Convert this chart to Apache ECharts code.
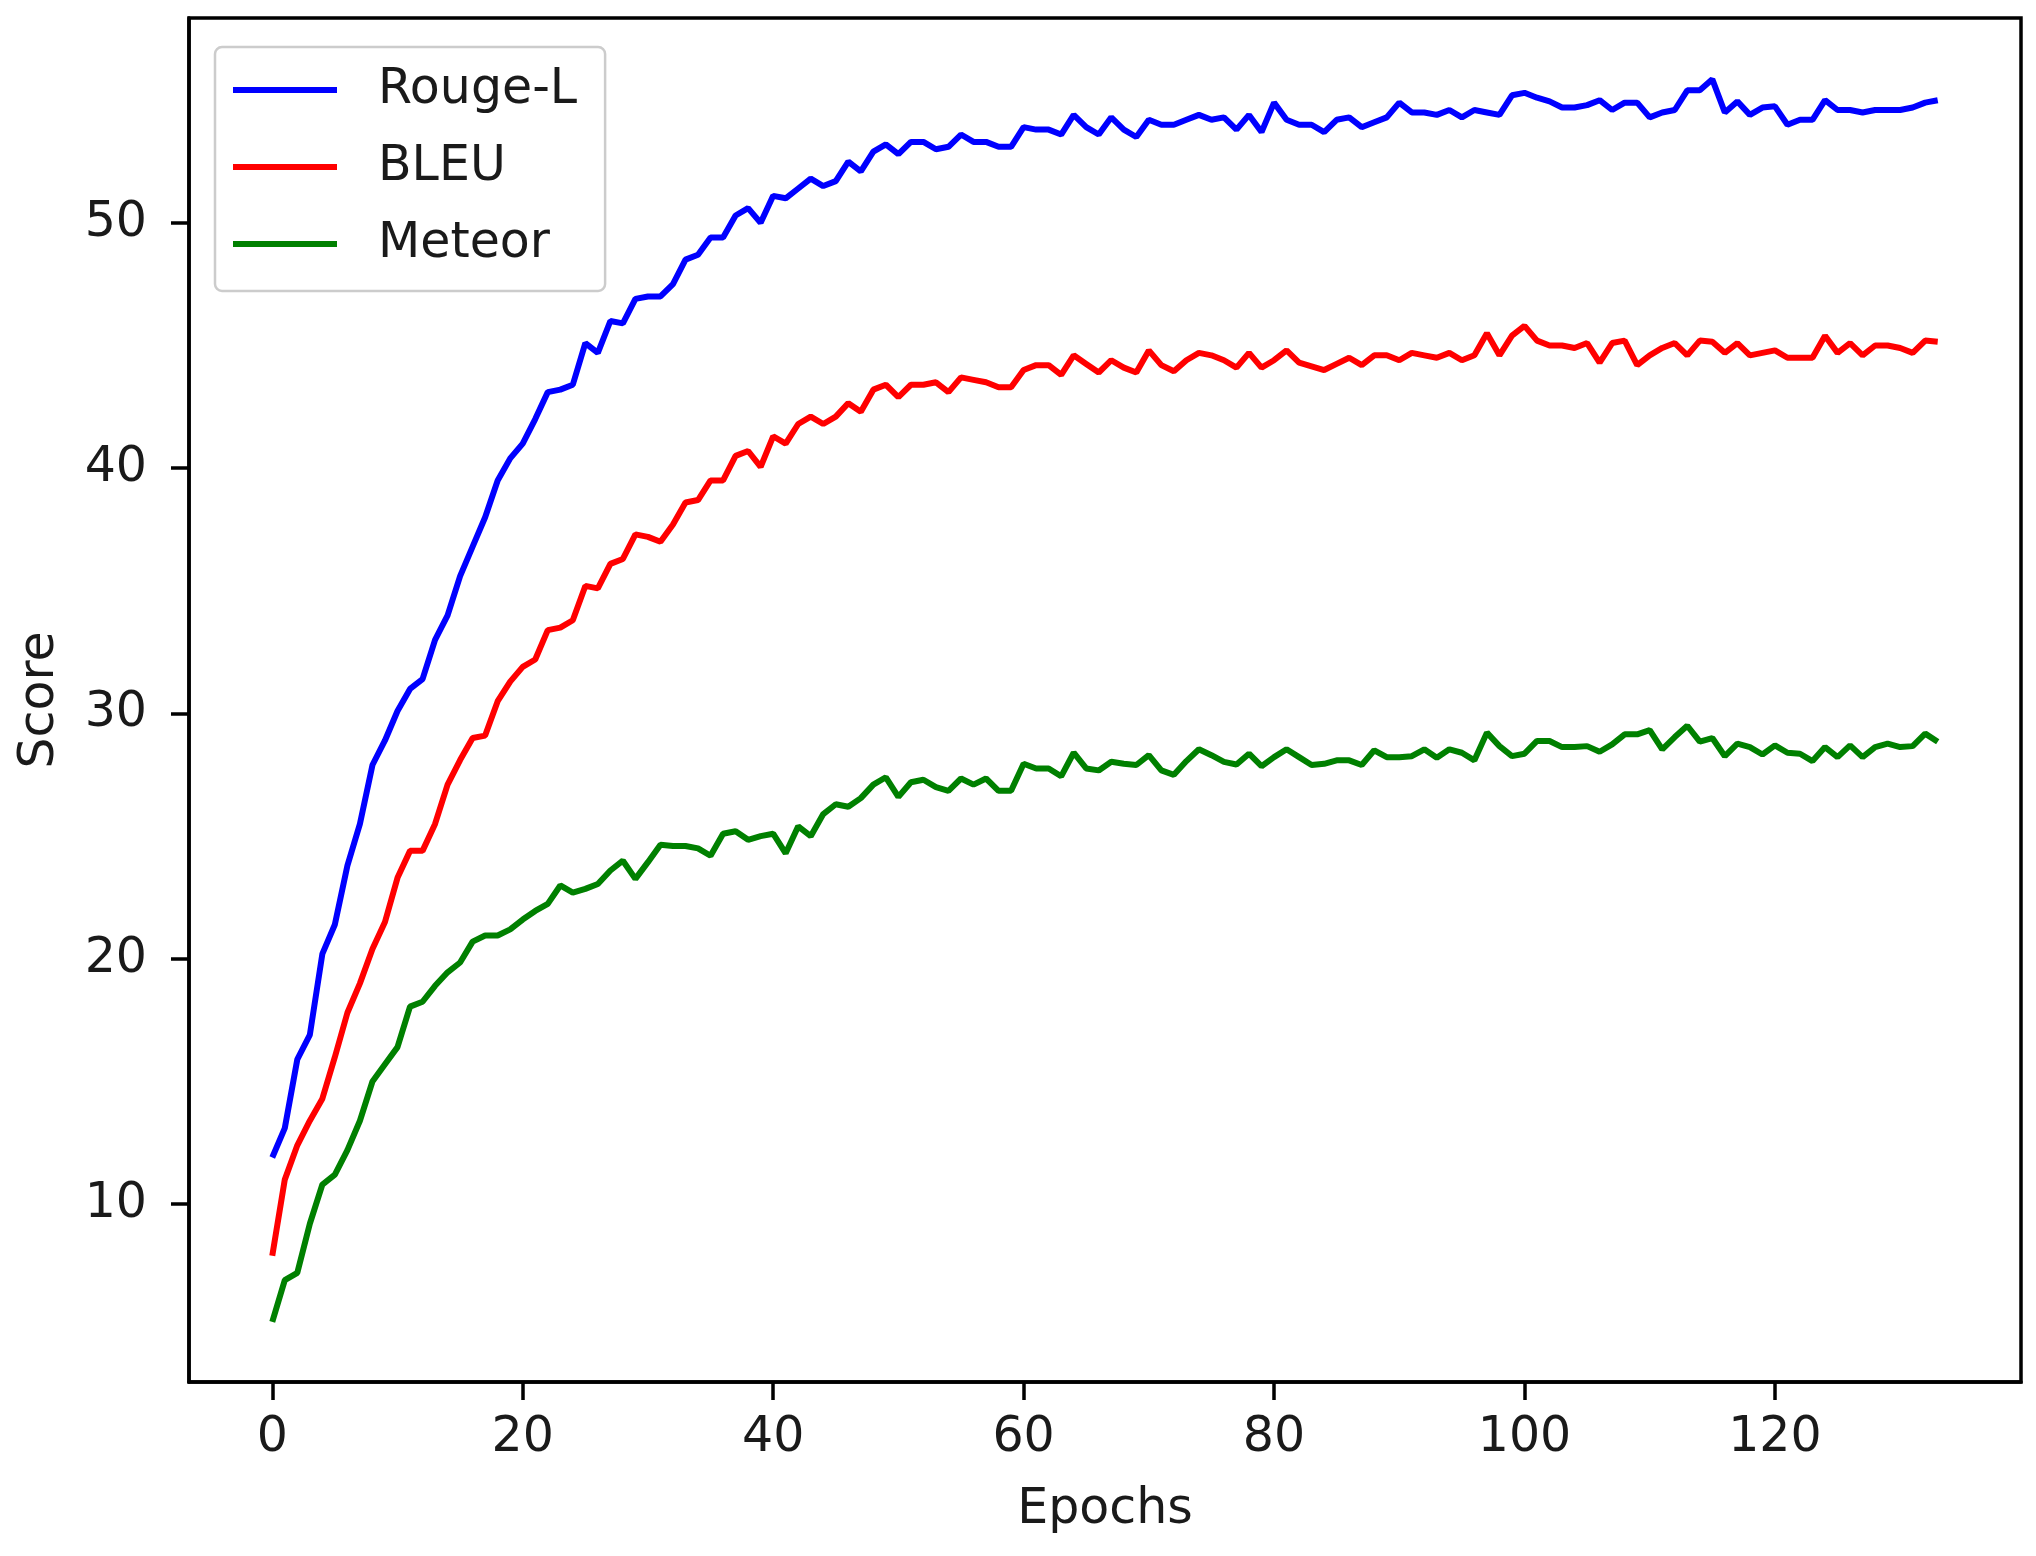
<!DOCTYPE html>
<html>
<head>
<meta charset="utf-8">
<script src="https://cdn.jsdelivr.net/npm/echarts@6/dist/echarts.min.js"></script>
<style>
  html, body { margin: 0; padding: 0; background: #ffffff; }
  #chart { width: 2036px; height: 1556px; }
</style>
</head>
<body>
<div id="chart"></div>
<script>
const seriesNames = ['Rouge-L', 'BLEU', 'Meteor'];
const seriesColors = ['#0000ff', '#ff0000', '#008000'];
const xTickValues = [0, 20, 40, 60, 80, 100, 120];
const yTickValues = [10, 20, 30, 40, 50];

const rougeL = [
  11.9, 13.1, 15.9, 16.9, 20.2, 21.4, 23.8, 25.5, 27.9, 28.9,
  30.1, 31.0, 31.4, 33.0, 34.0, 35.6, 36.8, 38.0, 39.5, 40.4,
  41.0, 42.0, 43.1, 43.2, 43.4, 45.1, 44.7, 46.0, 45.9, 46.9,
  47.0, 47.0, 47.5, 48.5, 48.7, 49.4, 49.4, 50.3, 50.6, 50.0,
  51.1, 51.0, 51.4, 51.8, 51.5, 51.7, 52.5, 52.1, 52.9, 53.2,
  52.8, 53.3, 53.3, 53.0, 53.1, 53.6, 53.3, 53.3, 53.1, 53.1,
  53.9, 53.8, 53.8, 53.6, 54.4, 53.9, 53.6, 54.3, 53.8, 53.5,
  54.2, 54.0, 54.0, 54.2, 54.4, 54.2, 54.3, 53.8, 54.4, 53.7,
  54.9, 54.2, 54.0, 54.0, 53.7, 54.2, 54.3, 53.9, 54.1, 54.3,
  54.9, 54.5, 54.5, 54.4, 54.6, 54.3, 54.6, 54.5, 54.4, 55.2,
  55.3, 55.1, 54.95, 54.7, 54.7, 54.8, 55.0, 54.6, 54.9, 54.9,
  54.3, 54.5, 54.6, 55.4, 55.4, 55.85, 54.5, 54.95, 54.4, 54.7,
  54.75, 54.0, 54.2, 54.2, 55.0, 54.6, 54.6, 54.5, 54.6, 54.6,
  54.6, 54.7, 54.9, 55.0
];

const bleu = [
  7.9, 11.0, 12.4, 13.4, 14.3, 16.0, 17.8, 19.0, 20.4, 21.5,
  23.3, 24.4, 24.4, 25.5, 27.1, 28.1, 29.0, 29.1, 30.5, 31.3,
  31.9, 32.2, 33.4, 33.5, 33.8, 35.2, 35.1, 36.1, 36.3, 37.3,
  37.2, 37.0, 37.7, 38.6, 38.7, 39.5, 39.5, 40.5, 40.7, 40.05,
  41.3, 41.0, 41.8, 42.1, 41.8, 42.1, 42.65, 42.3, 43.2, 43.4,
  42.9, 43.4, 43.4, 43.5, 43.1, 43.7, 43.6, 43.5, 43.3, 43.3,
  44.0, 44.2, 44.2, 43.8, 44.6, 44.25, 43.9, 44.4, 44.1, 43.9,
  44.8, 44.2, 43.95, 44.4, 44.7, 44.6, 44.4, 44.1, 44.7, 44.1,
  44.4, 44.8, 44.3, 44.15, 44.0, 44.25, 44.5, 44.2, 44.6, 44.6,
  44.4, 44.7, 44.6, 44.5, 44.7, 44.4, 44.6, 45.5, 44.6, 45.4,
  45.8, 45.2, 45.0, 45.0, 44.9, 45.1, 44.3, 45.1, 45.2, 44.2,
  44.6, 44.9, 45.1, 44.6, 45.2, 45.15, 44.7, 45.1, 44.6, 44.7,
  44.8, 44.5, 44.5, 44.5, 45.4, 44.7, 45.1, 44.6, 45.0, 45.0,
  44.9, 44.7, 45.2, 45.15
];

const meteor = [
  5.2, 6.9, 7.2, 9.2, 10.8, 11.2, 12.2, 13.4, 15.0, 15.7,
  16.4, 18.05, 18.25, 18.9, 19.45, 19.85, 20.7, 20.95, 20.95, 21.2,
  21.6, 21.95, 22.24, 22.99, 22.7, 22.85, 23.05, 23.6, 24.0, 23.26,
  23.94, 24.65, 24.6, 24.6, 24.5, 24.2, 25.1, 25.2, 24.85, 25.0,
  25.1, 24.3, 25.4, 25.0, 25.9, 26.3, 26.2, 26.55, 27.1, 27.4,
  26.6, 27.2, 27.3, 27.0, 26.85, 27.35, 27.1, 27.35, 26.85, 26.85,
  27.95, 27.76, 27.76, 27.44, 28.4, 27.76, 27.68, 28.03, 27.95, 27.9,
  28.3, 27.68, 27.5, 28.06, 28.54, 28.3, 28.03, 27.92, 28.36, 27.85,
  28.22, 28.54, 28.22, 27.9, 27.95, 28.09, 28.09, 27.9, 28.5, 28.22,
  28.22, 28.26, 28.54, 28.2, 28.54, 28.4, 28.09, 29.22, 28.67, 28.26,
  28.36, 28.88, 28.88, 28.63, 28.63, 28.67, 28.44, 28.74, 29.15, 29.15,
  29.32, 28.54, 29.04, 29.5, 28.85, 29.0, 28.26, 28.77, 28.63, 28.33,
  28.7, 28.4, 28.36, 28.06, 28.63, 28.22, 28.7, 28.22, 28.63, 28.77,
  28.63, 28.67, 29.18, 28.85
];

const allSeries = [rougeL, bleu, meteor];
const epochs = rougeL.map((_, i) => i);

const FONT = 'DejaVu Sans';
const TEXT_COLOR = '#1a1a1a';
const FS = 49;

const chart = echarts.init(document.getElementById('chart'), null, { renderer: 'canvas' });

const axisLineStyle = { show: true, onZero: false, lineStyle: { color: '#000000', width: 3.5 } };

chart.setOption({
  animation: false,
  backgroundColor: '#ffffff',
  grid: {
    left: 189, right: 15, top: 18, bottom: 174,
    show: true, borderColor: '#000000', borderWidth: 3.5,
    backgroundColor: 'transparent', containLabel: false
  },
  legend: {
    orient: 'vertical',
    left: 215, top: 47,
    data: seriesNames,
    icon: 'rect',
    itemWidth: 104, itemHeight: 6, itemGap: 27,
    padding: [18, 28, 22, 18],
    backgroundColor: '#ffffff',
    borderColor: '#cccccc', borderWidth: 2.5, borderRadius: 7,
    textStyle: {
      fontFamily: FONT, fontSize: FS, color: TEXT_COLOR,
      lineHeight: 50, padding: [0, 0, 0, 36]
    }
  },
  xAxis: {
    type: 'value',
    min: -6.65, max: 139.65,
    name: 'Epochs', nameLocation: 'middle', nameGap: 104,
    nameTextStyle: { fontFamily: FONT, fontSize: FS, color: TEXT_COLOR },
    axisLine: axisLineStyle,
    axisTick: { show: true, inside: false, customValues: xTickValues, length: 18, lineStyle: { color: '#000', width: 3.5 } },
    axisLabel: { customValues: xTickValues, margin: 32, fontFamily: FONT, fontSize: FS, color: TEXT_COLOR },
    splitLine: { show: false }
  },
  yAxis: {
    type: 'value',
    min: 2.75, max: 58.35,
    name: 'Score', nameLocation: 'middle', nameGap: 124,
    nameTextStyle: { fontFamily: FONT, fontSize: FS, color: TEXT_COLOR },
    axisLine: axisLineStyle,
    axisTick: { show: true, inside: false, customValues: yTickValues, length: 18, lineStyle: { color: '#000', width: 3.5 } },
    axisLabel: { customValues: yTickValues, margin: 42, fontFamily: FONT, fontSize: FS, color: TEXT_COLOR },
    splitLine: { show: false }
  },
  series: seriesNames.map((name, k) => ({
    name: name,
    type: 'line',
    symbol: 'none',
    showSymbol: false,
    color: seriesColors[k],
    lineStyle: { color: seriesColors[k], width: 6 },
    data: allSeries[k].map((v, i) => [epochs[i], v]),
    z: 3 - k
  }))
});
</script>
</body>
</html>
